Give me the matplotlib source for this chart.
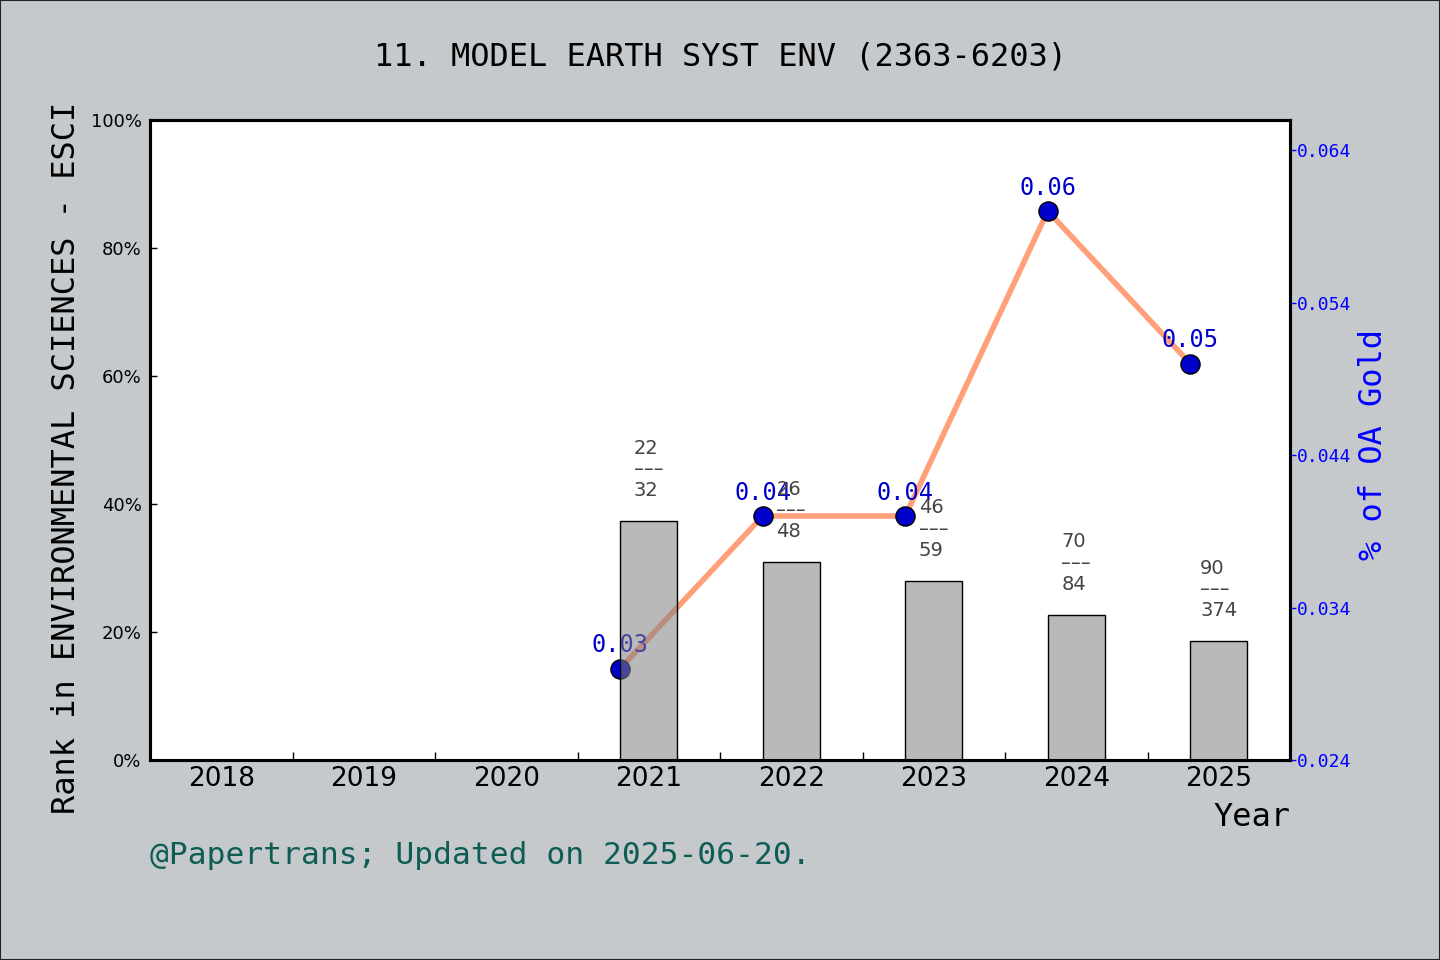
import matplotlib.pyplot as plt
from matplotlib.patches import Rectangle

years = ["2018", "2019", "2020", "2021", "2022", "2023", "2024", "2025"]
bar_years = ["2021", "2022", "2023", "2024", "2025"]
rank_pct = [37.3, 30.9, 28.0, 22.7, 18.6]
rank_num = ["22", "26", "46", "70", "90"]
rank_tot = ["32", "48", "59", "84", "374"]
oa_gold = [0.03, 0.04, 0.04, 0.06, 0.05]
oa_labels = ["0.03", "0.04", "0.04", "0.06", "0.05"]
right_ticks = [0.024, 0.034, 0.044, 0.054, 0.064]

mono = "DejaVu Sans Mono"
bg = "#c5c9cc"
bar_w = 0.4

fig = plt.figure(figsize=(14.4, 9.6), dpi=100, facecolor=bg)
fig.patches.append(Rectangle((0, 0), 1, 1, transform=fig.transFigure,
                             fill=False, edgecolor="#222222", linewidth=1.5))

ax2 = fig.add_axes([150/1440, 1-760/960, 1140/1440, 640/960])
ax = ax2.twinx()
ax.yaxis.tick_left()
ax2.yaxis.tick_right()

xpos = [years.index(y) for y in bar_years]
# line points sit on the left edge of each bar
xline = [x - bar_w / 2 for x in xpos]

# line on the right (OA Gold) axis, underneath the bars
ax2.set_facecolor("white")
ax2.plot(xline, oa_gold, color="#ffa07a", linewidth=4, zorder=2)
ax2.scatter(xline, oa_gold, s=190, color="#0000cd", edgecolor="black",
            linewidth=1, zorder=3)
for x, v, t in zip(xline, oa_gold, oa_labels):
    ax2.annotate(t, (x, v), xytext=(0, 8), textcoords="offset points",
                 ha="center", va="bottom", color="#0000cd",
                 fontsize=17, family=mono)
ax2.set_ylim(0.024, 0.06597)
ax2.set_yticks(right_ticks)
ax2.set_yticklabels([f"{t:.3f}" for t in right_ticks])
ax2.tick_params(axis="y", colors="#0000ff", labelsize=13, direction="out",
                length=4, width=1, pad=1)
for lbl in ax2.get_yticklabels():
    lbl.set_family(mono)
    lbl.set_color("#0000ff")

# bars on the left (rank) axis, drawn on top, semi transparent fill
ax.set_zorder(ax2.get_zorder() + 1)
ax.patch.set_visible(False)
ax.bar(xpos, rank_pct, width=bar_w, color=(0.5, 0.5, 0.5, 0.55),
       edgecolor="black", linewidth=1)
for x, h, a, b in zip(xpos, rank_pct, rank_num, rank_tot):
    ax.annotate(f"{a}\n\u2013\u2013\u2013\n{b}", (x, h), xytext=(0, 15),
                textcoords="offset points", ha="center", va="bottom",
                multialignment="left", color="#444444", fontsize=14,
                linespacing=1.15)
ax.set_ylim(0, 100)
ax.set_yticks([0, 20, 40, 60, 80, 100])
ax.set_yticklabels(["0%", "20%", "40%", "60%", "80%", "100%"])
ax.tick_params(axis="y", labelsize=13, direction="in", length=5, width=1, pad=6)

ax.set_xlim(-0.5, 7.5)
ax2.set_xticks(range(len(years)))
ax2.set_xticklabels(years, fontsize=19)
ax2.set_xticks([i + 0.5 for i in range(len(years) - 1)], minor=True)
ax2.tick_params(axis="x", which="major", length=0, pad=4)
ax2.tick_params(axis="x", which="minor", direction="in", length=6, width=1)
ax2.set_xlim(-0.5, 7.5)

for a in (ax, ax2):
    for s in a.spines.values():
        s.set_linewidth(2.2)
        s.set_color("black")

fig.text(0.5, 1-57/960, "11. MODEL EARTH SYST ENV (2363-6203)", ha="center",
         va="center", fontsize=23, family=mono)
fig.text(67/1440, 1-458/960, "Rank in ENVIRONMENTAL SCIENCES - ESCI",
         rotation=90, ha="center", va="center", fontsize=23, family=mono)
fig.text(1373/1440, 1-444/960, "% of OA Gold", rotation=90, ha="center",
         va="center", fontsize=23, family=mono, color="#0000ff")
fig.text(1290/1440, 1-817/960, "Year", ha="right", va="center",
         fontsize=23, family=mono)
fig.text(150/1440, 1-855/960, "@Papertrans; Updated on 2025-06-20.",
         ha="left", va="center", fontsize=22.5, family=mono, color="#0d5c55")

fig.savefig("out.png", dpi=100, facecolor=bg)
